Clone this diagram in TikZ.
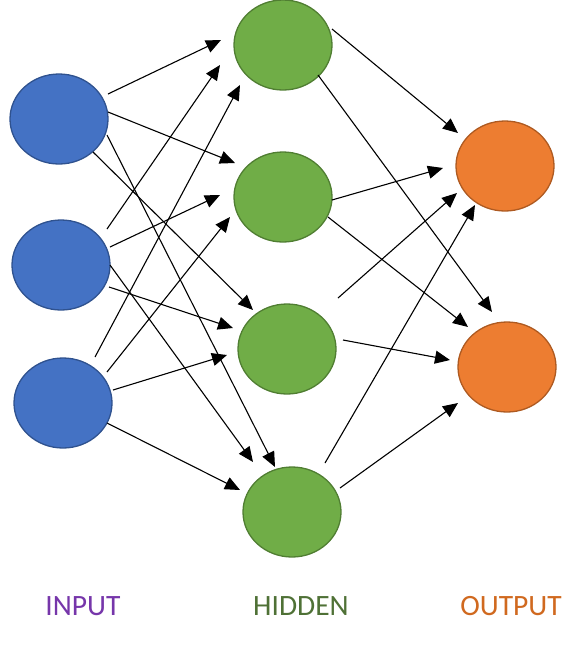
\documentclass[tikz,border=0pt]{standalone}
\usepackage{fontspec}
\setmainfont{Carlito}
\usetikzlibrary{shapes.geometric,arrows.meta,calc}
\definecolor{inblue}{HTML}{4472C4}
\definecolor{inblueD}{HTML}{2F528F}
\definecolor{hidgreen}{HTML}{70AD47}
\definecolor{hidgreenD}{HTML}{507E32}
\definecolor{outorange}{HTML}{ED7D31}
\definecolor{outorangeD}{HTML}{AE5A21}
\definecolor{labpurple}{HTML}{7636AA}
\definecolor{labgreen}{HTML}{4F7136}
\definecolor{laborange}{HTML}{D0691F}
\tikzset{
  neuron/.style={ellipse,minimum width=98pt,minimum height=90pt,inner sep=0pt,line width=1.3pt},
  innode/.style={neuron,fill=inblue,draw=inblueD},
  hidnode/.style={neuron,fill=hidgreen,draw=hidgreenD},
  outnode/.style={neuron,fill=outorange,draw=outorangeD},
  conn/.style={line width=1.1pt,-{Triangle[length=15pt,width=13pt]}},
  lab/.style={anchor=base,font=\fontsize{29.5}{31}\selectfont,inner sep=0pt}
}
\newcommand{\linkit}[4]{\draw[conn] ($(#1)+(#2)$) -- ($(#3)+(#4)$);}
\begin{document}
\begin{tikzpicture}[x=1pt,y=-1pt]
\useasboundingbox (0,0) rectangle (569,657);
\node[innode] (i1) at (59,119) {};
\node[innode] (i2) at (61,265) {};
\node[innode] (i3) at (63,403) {};
\node[hidnode] (h1) at (283,45) {};
\node[hidnode] (h2) at (283,197) {};
\node[hidnode] (h3) at (287,349) {};
\node[hidnode] (h4) at (292,512) {};
\node[outnode] (o1) at (505,166) {};
\node[outnode] (o2) at (507,367) {};
% input -> hidden
\linkit{i1}{49,-25}{h1}{-62,-5}
\linkit{i1}{49,-7}{h2}{-48,-34}
\linkit{i1}{34,33}{h3}{-34,-39}
\linkit{i1}{48,16}{h4}{-17,-45}
\linkit{i2}{46,-36}{h1}{-63,20}
\linkit{i2}{49,-18}{h2}{-63,-2}
\linkit{i2}{48,22}{h3}{-54,-21}
\linkit{i2}{49,0}{h4}{-39,-50}
\linkit{i3}{32,-46}{h1}{-43,40}
\linkit{i3}{44,-31}{h2}{-53,20}
\linkit{i3}{50,-13}{h3}{-60,6}
\linkit{i3}{44,20}{h4}{-52,-22}
% hidden -> output
\linkit{h1}{49,-16}{o1}{-47,-33}
\linkit{h1}{35,30}{o2}{-15,-55}
\linkit{h2}{49,3}{o1}{-62,2}
\linkit{h2}{45,20}{o2}{-39,-40}
\linkit{h3}{51,-51}{o1}{-48,27}
\linkit{h3}{56,-9}{o2}{-57,-7}
\linkit{h4}{33,-49}{o1}{-30,39}
\linkit{h4}{48,-24}{o2}{-49,36}
% labels
\node[lab,text=labpurple] (tin) at (83,615) {INPUT};
\node[lab,text=labgreen] (thid) at (301,615) {HIDDEN};
\node[lab,text=laborange] (tout) at (511,615) {OUTPUT};
\end{tikzpicture}
\end{document}
